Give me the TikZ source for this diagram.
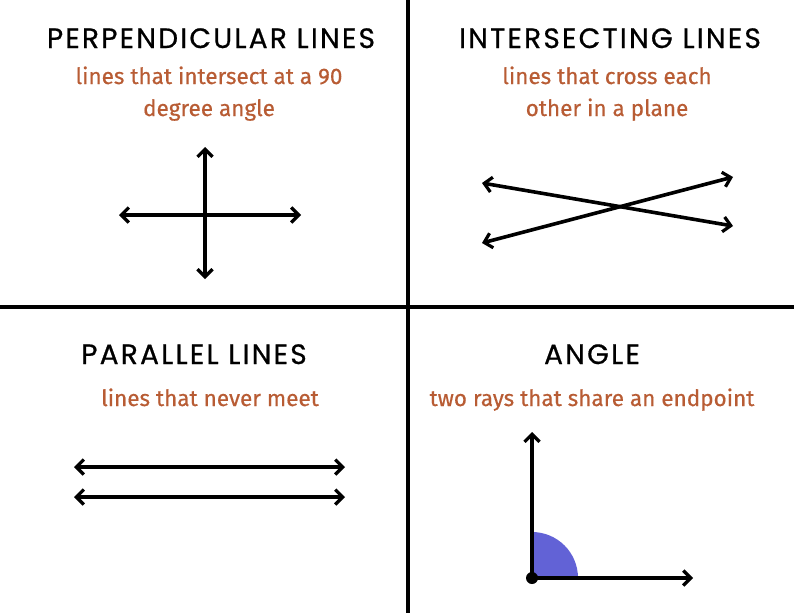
\documentclass[tikz,border=0pt]{standalone}
\usepackage{fontspec}
\setmainfont{Fira Sans}
\newfontfamily\titlefont{Poppins}[LetterSpace=8,FakeBold=0.7]
\newfontfamily\descfont{Fira Sans}[FakeBold=0.5]
\usepackage{tikz}
\usetikzlibrary{arrows.meta}

\definecolor{rustText}{RGB}{184,92,52}
\definecolor{angleFill}{RGB}{98,98,214}

\tikzset{
  title/.style={font=\titlefont\fontsize{28}{28}\selectfont, anchor=base},
  subtitle/.style={font=\descfont\fontsize{22.5}{22.5}\selectfont, text=rustText, anchor=base},
  divider/.style={line width=3.4pt},
  twoway/.style={line width=3.6pt, {Straight Barb[length=7.5pt,width=15pt,line width=3.2pt]}-{Straight Barb[length=7.5pt,width=15pt,line width=3.2pt]}},
  oneway/.style={line width=3.6pt, -{Straight Barb[length=7.5pt,width=15pt,line width=3.2pt]}}
}

\begin{document}
\begin{tikzpicture}[x=1pt,y=-1pt]
  % \draw[step=50,thin,gray!40] (0,0) grid (794,613);
  \useasboundingbox (0,0) rectangle (794,613);

  % dividers
  \coordinate (vTop) at (408,0);
  \coordinate (vBot) at (408,613);
  \coordinate (hLeft) at (0,307);
  \coordinate (hRight) at (794,307);
  \draw[divider] (vTop) -- (vBot);
  \draw[divider] (hLeft) -- (hRight);

  % titles
  \node[title] (perpTitle) at (211,48) {PERPENDICULAR LINES};
  \node[title] (interTitle) at (610,48) {INTERSECTING LINES};
  \node[title] (paraTitle) at (194,364) {PARALLEL LINES};
  \node[title] (angleTitle) at (592,364) {ANGLE};

  % descriptions
  \node[subtitle] (perpTextA) at (209,84) {lines that intersect at a 90};
  \node[subtitle] (perpTextB) at (209,116) {degree angle};
  \node[subtitle] (interTextA) at (607,84) {lines that cross each};
  \node[subtitle] (interTextB) at (607,116) {other in a plane};
  \node[subtitle] (paraText) at (210,406) {lines that never meet};
  \node[subtitle] (angleText) at (592,406) {two rays that share an endpoint};

  % perpendicular lines
  \coordinate (perpW) at (119,215);
  \coordinate (perpE) at (301,215);
  \coordinate (perpN) at (205,147);
  \coordinate (perpS) at (205,279);
  \draw[twoway] (perpW) -- (perpE);
  \draw[twoway] (perpN) -- (perpS);

  % intersecting lines
  \coordinate (interA1) at (482,183);
  \coordinate (interA2) at (733,226);
  \coordinate (interB1) at (482,243);
  \coordinate (interB2) at (733,177);
  \draw[twoway] (interA1) -- (interA2);
  \draw[twoway] (interB1) -- (interB2);

  % parallel lines
  \coordinate (paraA1) at (74,467);
  \coordinate (paraA2) at (345,467);
  \coordinate (paraB1) at (74,497);
  \coordinate (paraB2) at (345,497);
  \draw[twoway] (paraA1) -- (paraA2);
  \draw[twoway] (paraB1) -- (paraB2);

  % angle
  \coordinate (vertex) at (532,578);
  \coordinate (rayUp) at (532,432);
  \coordinate (rayRight) at (693,578);
  \fill[angleFill] (vertex) -- ++(46,0) arc[start angle=0, end angle=-90, radius=46] -- cycle;
  \draw[oneway] (vertex) -- (rayUp);
  \draw[oneway] (vertex) -- (rayRight);
  \fill (vertex) circle[radius=6];
\end{tikzpicture}
\end{document}
